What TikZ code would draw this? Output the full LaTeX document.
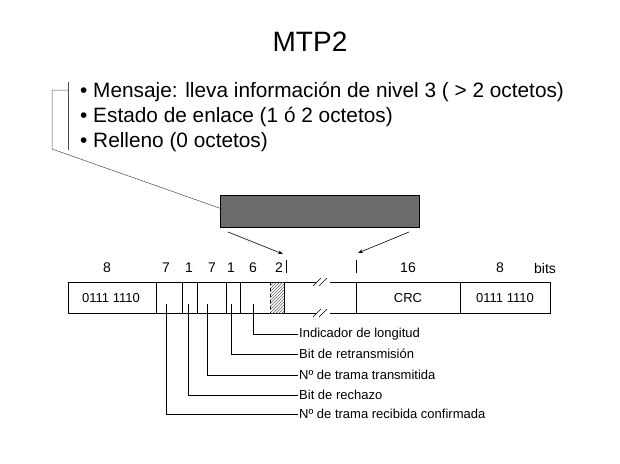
\documentclass[tikz,border=0pt]{standalone}
\usepackage{fontspec}
\setmainfont{Liberation Sans}
\usetikzlibrary{patterns,arrows.meta}
\begin{document}
\begin{tikzpicture}[x=1pt,y=-1pt,
  fld/.style={font=\fontsize{13}{14}\selectfont},
  lbl/.style={font=\fontsize{13}{14}\selectfont,anchor=west,inner sep=1pt},
  bul/.style={font=\fontsize{20.8}{22}\selectfont,anchor=west,inner sep=0pt},
  ln/.style={draw=black,line width=0.6pt},
  thin/.style={draw=black!70,line width=0.5pt}]
\useasboundingbox (0,0) rectangle (620,463);
\node (title) at (310,42) {\fontsize{28}{30}\selectfont MTP2};
\node[bul] (b1) at (80,92) {• Mensaje: lleva información de nivel 3 ( > 2 octetos)};
\node[bul] (b2) at (80,117) {• Estado de enlace (1 ó 2 octetos)};
\node[bul] (b3) at (80,142) {• Relleno (0 octetos)};
\draw[thin] (68,82) -- (68,150);
\draw[thin] (68,90) -- (52,90) -- (52,149) -- (225,210);
\node[draw,line width=1pt,fill=black!58,minimum width=199pt,minimum height=32pt,inner sep=0pt] (gray) at (319.5,211) {};
% frame
\draw[ln] (68,282) rectangle (550,313);
\foreach \x in {156,182,197,226,240,284,356,460} \draw[ln] (\x,282) -- (\x,313);
\fill[pattern=north east lines,pattern color=black!60] (270,282) rectangle (284,313);
\draw[ln,dashed] (270,282) -- (270,313);
\node[fld] (f1) at (111,298) {0111 1110};
\node[fld] (crc) at (408,298) {CRC};
\node[fld] (f2) at (505,298) {0111 1110};
% bit numbers
\foreach \x/\t in {107/8,166/7,189/1,212/7,231/1,253/6,279/2,408/16,500/8}
  \node[fld,font=\fontsize{14}{15}\selectfont] at (\x,268) {\t};
\node[fld,font=\fontsize{14}{15}\selectfont] at (545,268) {bits};
\draw[ln] (286,260) -- (286,273);
\draw[ln] (356,260) -- (356,273);
% break marks
\fill[white] (316,279) rectangle (330,285);
\fill[white] (316,310) rectangle (330,316);
\foreach \y in {282,313} {
  \draw[ln] (313,\y+4) -- (321,\y-4);
  \draw[ln] (319,\y+4) -- (327,\y-4);
}
% arrows
\coordinate (a1) at (228,232); \coordinate (a1e) at (283,254);
\coordinate (a2) at (409,232); \coordinate (a2e) at (358,253);
\draw[ln,-{Stealth[length=5pt]}] (a1) -- (a1e);
\draw[ln,-{Stealth[length=5pt]}] (a2) -- (a2e);
% leaders
\node[lbl] (l1) at (298,334) {Indicador de longitud};
\node[lbl] (l2) at (298,354) {Bit de retransmisión};
\node[lbl] (l3) at (298,375) {Nº de trama transmitida};
\node[lbl] (l4) at (298,395) {Bit de rechazo};
\node[lbl] (l5) at (298,414) {Nº de trama recibida confirmada};
\draw[ln] (253,304) |- (l1.west);
\draw[ln] (231,304) |- (l2.west);
\draw[ln] (207,304) |- (l3.west);
\draw[ln] (188,304) |- (l4.west);
\draw[ln] (166,304) |- (l5.west);
\end{tikzpicture}
\end{document}
